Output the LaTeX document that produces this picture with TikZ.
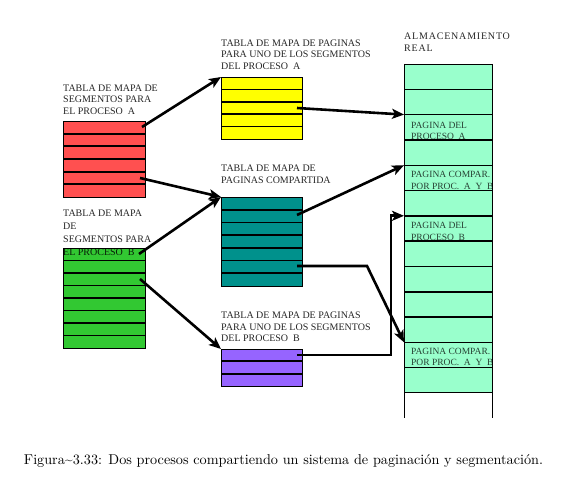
\documentclass[tikz,border=0pt]{standalone}
\usepackage{fontspec}
\usepackage{graphicx}
\usetikzlibrary{arrows.meta}
\newfontfamily\tnr{Liberation Serif}
\definecolor{redt}{RGB}{255,80,80}
\definecolor{yelt}{RGB}{255,255,0}
\definecolor{tealt}{RGB}{0,145,140}
\definecolor{greent}{RGB}{50,200,50}
\definecolor{purt}{RGB}{150,100,255}
\definecolor{memt}{RGB}{153,255,204}
\begin{document}
\begin{tikzpicture}[x=1pt,y=-1pt,
  tbl/.style={draw=black, line width=0.7pt, inner sep=0pt, outer sep=0pt, anchor=north west},
  rowline/.style={line width=1.7pt},
  thinline/.style={line width=0.8pt},
  lbl/.style={anchor=north west, inner sep=0pt, align=left, text=black, text opacity=0.85,
    font=\tnr\fontsize{10}{11.7}\selectfont},
  memlbl/.style={anchor=north west, inner sep=0pt, align=left, text=black, text opacity=0.75,
    font=\tnr\fontsize{9.5}{11.3}\selectfont},
  arr/.style={line width=2.6pt, -{Stealth[length=12pt,width=10pt,inset=3pt]}}
]
\useasboundingbox (0,0) rectangle (566,489);

% ---- tables ----
\node[tbl, fill=redt, minimum width=82pt, minimum height=76pt] (red) at (63,121) {};
\foreach \k in {1,...,5} \draw[rowline] (63,121+12.67*\k) -- (145,121+12.67*\k);

\node[tbl, fill=yelt, minimum width=81pt, minimum height=62pt] (yel) at (221,77) {};
\foreach \k in {1,...,4} \draw[rowline] (221,77+12.4*\k) -- (302,77+12.4*\k);

\node[tbl, fill=tealt, minimum width=81pt, minimum height=89pt] (teal) at (221,197) {};
\foreach \k in {1,...,6} \draw[rowline] (221,197+12.71*\k) -- (302,197+12.71*\k);

\node[tbl, fill=greent, minimum width=82pt, minimum height=100pt] (grn) at (63,248) {};
\foreach \k in {1,...,7} \draw[rowline] (63,248+12.5*\k) -- (145,248+12.5*\k);

\node[tbl, fill=purt, minimum width=81pt, minimum height=37pt] (pur) at (221,349) {};
\foreach \k in {1,2} \draw[rowline] (221,349+12.33*\k) -- (302,349+12.33*\k);

% ---- real storage ----
\fill[memt] (404,64) rectangle (492,392.9);
\draw[thinline] (404,64) -- (492,64);
\draw[thinline] (404,64) -- (404,418);
\draw[thinline] (492,64) -- (492,418);
\foreach \k in {2,3,5,6,7,8,9,10,12} \draw[rowline] (404,64+25.3*\k) -- (492,64+25.3*\k);
\foreach \k in {1,4,11,13} \draw[thinline] (404,64+25.3*\k) -- (492,64+25.3*\k);
\coordinate (m2) at (404,114.6);
\coordinate (m4) at (404,165.2);
\coordinate (m6) at (404,215.8);
\coordinate (m11) at (404,342.3);

\begin{scope}
\clip (404,64) rectangle (492,393);
\node[memlbl] (pa) at (411,122.2) {PAGINA DEL\\PROCESO\ \ A};
\node[memlbl] (pc1) at (411,171.4) {PAGINA COMPAR.\\POR PROC.\ \ A\ \ Y\ \ B};
\node[memlbl] (pb) at (411,222.5) {PAGINA DEL\\PROCESO\ \ B};
\node[memlbl] (pc2) at (411,348.2) {PAGINA COMPAR.\\POR PROC.\ \ A\ \ Y\ \ B};
\end{scope}

% ---- labels ----
\node[lbl] (lred) at (63,84.4) {TABLA DE MAPA DE\\SEGMENTOS PARA\\EL PROCESO\ \ A};
\node[lbl] (lyel) at (221,39.4) {TABLA DE MAPA DE PAGINAS\\PARA UNO DE LOS SEGMENTOS\\DEL PROCESO\ \ A};
\node[lbl] (lteal) at (221,165.1) {TABLA DE MAPA DE\\PAGINAS COMPARTIDA};
\node[lbl, font=\tnr\fontsize{10}{13}\selectfont] (lgrn) at (63,210.1) {TABLA DE MAPA\\DE\\SEGMENTOS PARA\\EL PROCESO\ \ B};
\node[lbl] (lpur) at (221,311.7) {TABLA DE MAPA DE PAGINAS\\PARA UNO DE LOS SEGMENTOS\\DEL PROCESO\ \ B};
\node[lbl, font=\tnr\fontsize{10}{12.7}\selectfont\addfontfeature{LetterSpace=8}] (lmem) at (404,32.4) {ALMACENAMIENTO\\REAL};

% ---- arrows ----
\coordinate (a1) at (142,127);
\coordinate (a2) at (140,178);
\coordinate (a3) at (139,254);
\coordinate (a4) at (140,279);
\coordinate (a5) at (297,108);
\coordinate (a6) at (297,215);
\coordinate (a7) at (297,266);
\coordinate (a7b) at (367,266);
\coordinate (a8) at (297,355);
\coordinate (a8b) at (391,355);
\coordinate (a8c) at (391,215.8);

\draw[arr] (a1) -- (yel.north west);
\draw[arr] (a2) -- (teal.north west);
\draw[arr] (a3) -- (teal.north west);
\draw[arr] (a4) -- (pur.north west);
\draw[arr] (a5) -- (m2);
\draw[arr] (a6) -- (m4);
\draw[arr] (a7) -- (a7b) -- (m11);
\draw[arr] (a8) -- (a8b) -- (a8c) -- (m6);

% ---- caption ----
\node[anchor=base, inner sep=0pt] (cap) at (283.5,465)
  {\resizebox{519pt}{!}{Figura\textasciitilde 3.33: Dos procesos compartiendo un sistema de paginación y segmentación.}};
\end{tikzpicture}
\end{document}
